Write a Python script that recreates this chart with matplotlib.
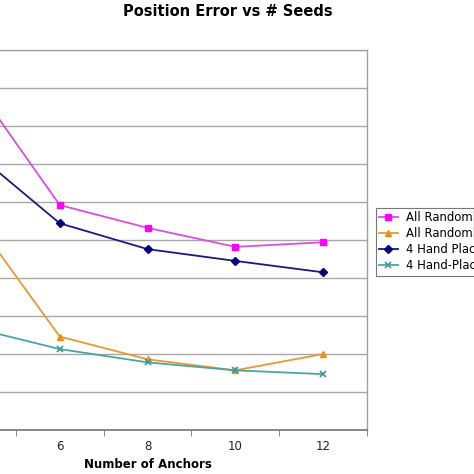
import matplotlib
matplotlib.use("Agg")
import matplotlib.pyplot as plt
import numpy as np

categories = ["4", "6", "8", "10", "12"]
all_random_a = [9.2, 5.92, 5.32, 4.82, 4.94]
all_random_b = [5.65, 2.46, 1.86, 1.57, 2.0]
hand_placed_a = [7.37, 5.44, 4.76, 4.45, 4.15]
hand_placed_b = [2.70, 2.13, 1.78, 1.57, 1.47]
series_labels = ["All Randomly Placed", "All Randomly Placed (2)",
                 "4 Hand Placed", "4 Hand-Placed (2)"]

W = H = 474
fig = plt.figure(figsize=(4.74, 4.74), dpi=100)
# plot area in pixels: left -72, right 367, top 50, bottom 430
ax = fig.add_axes([-72 / W, (H - 430) / H, 439 / W, 380 / H])

x = np.arange(len(categories))
ax.plot(x, all_random_a, color="#D94FE0", lw=1.3, marker="s", ms=5,
        mfc="#FF00FF", mec="#FF00FF", label=series_labels[0], zorder=3)
ax.plot(x, all_random_b, color="#E49A35", lw=1.3, marker="^", ms=5,
        mfc="#E8901A", mec="#E8901A", label=series_labels[1], zorder=3)
ax.plot(x, hand_placed_a, color="#1A1A80", lw=1.3, marker="D", ms=3.8,
        mfc="#000080", mec="#000080", label=series_labels[2], zorder=3)
ax.plot(x, hand_placed_b, color="#4BA5A5", lw=1.3, marker="x", ms=4.5,
        mew=1.2, mfc="#3A9A9A", mec="#3A9A9A", label=series_labels[3], zorder=3)

ax.set_xlim(-0.5, len(categories) - 0.5)
ax.set_ylim(0, 10)
ax.set_yticks(np.arange(0, 11, 1))
ax.yaxis.grid(True, color="#A8A8A8", lw=1.0)
ax.set_yticklabels([])
ax.tick_params(axis="y", length=0)

ax.set_xticks(x)
ax.set_xticklabels(categories, fontsize=8.5, color="#222222")
ax.set_xticks(np.arange(-0.5, len(categories), 1), minor=True)
ax.tick_params(axis="x", which="major", length=0, pad=7)
ax.tick_params(axis="x", which="minor", length=4, direction="out", color="#777777")

for s in ["top", "right", "left"]:
    ax.spines[s].set_color("#A0A0A0")
    ax.spines[s].set_linewidth(1.0)
ax.spines["bottom"].set_color("#777777")
ax.spines["bottom"].set_linewidth(1.2)

ax.set_xlabel("Number of Anchors", fontsize=8.5, fontweight="bold", labelpad=4)

fig.text(228 / W, 1 - 12 / H, "Position Error vs # Seeds", ha="center",
         va="center", fontsize=10.5, fontweight="bold")

leg = fig.legend(loc="upper left", bbox_to_anchor=(375.5 / W, 1 - 208 / H),
                 fontsize=8.4, frameon=True, fancybox=False, handlelength=1.6,
                 handletextpad=0.7, borderaxespad=0, labelspacing=0.25,
                 borderpad=0.3)
leg.get_frame().set_edgecolor("#555555")
leg.get_frame().set_linewidth(0.8)

fig.savefig("out.png", dpi=100)
